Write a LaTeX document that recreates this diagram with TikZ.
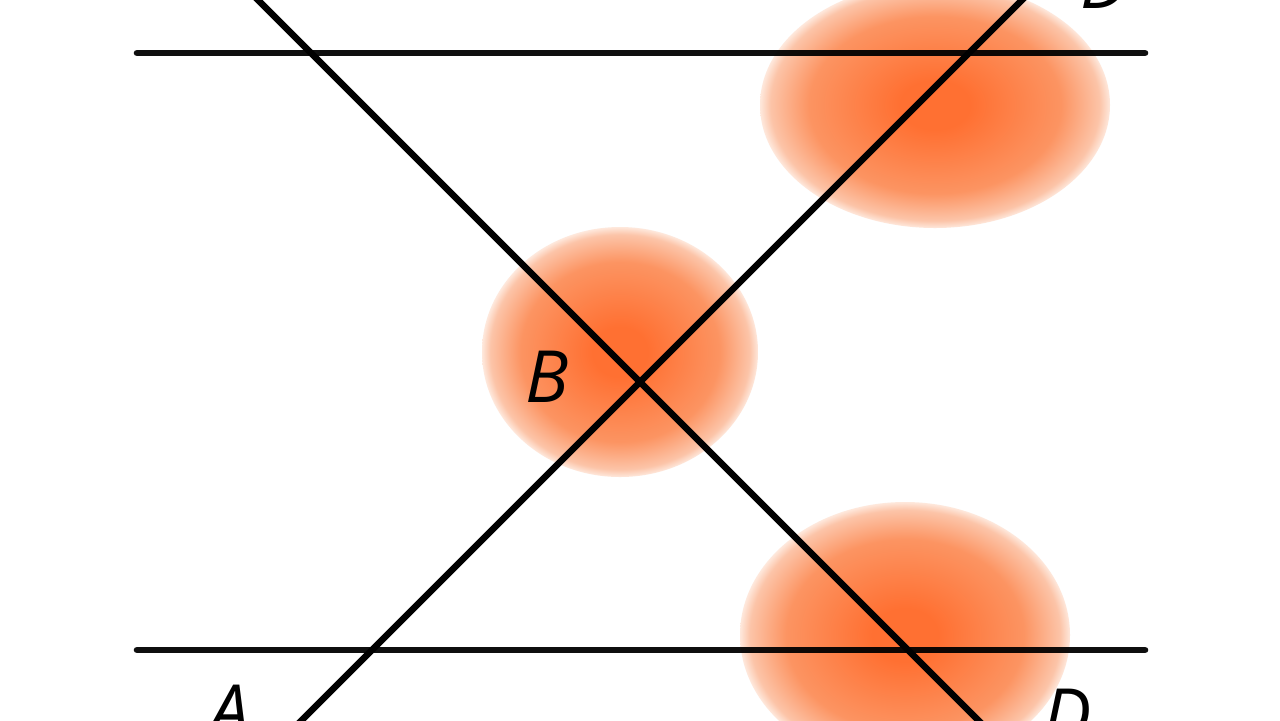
\documentclass[tikz,border=0pt]{standalone}
\usepackage{fontspec}
\setmainfont{Open Sans}
\definecolor{blobA}{RGB}{255,112,50}
\definecolor{blobB}{RGB}{252,148,98}
\definecolor{blobC}{RGB}{252,196,168}
\definecolor{blobD}{RGB}{254,232,220}
\pgfdeclareradialshading{blobshade}{\pgfpoint{0bp}{0bp}}{color(0bp)=(blobA); color(5bp)=(blobA); color(18bp)=(blobB); color(23.5bp)=(blobC); color(25bp)=(blobD); color(50bp)=(white)}
\tikzset{
  blob/.style={shading=blobshade},
  hline/.style={line width=3.3pt, line cap=round, draw=black, draw opacity=0.94},
  dline/.style={line width=3.3pt, line cap=round, draw=black},
  lab/.style={font=\fontsize{36}{40}\selectfont\itshape, anchor=base, inner sep=0pt}
}
\begin{document}
\begin{tikzpicture}[x=0.5pt,y=-0.5pt]
\useasboundingbox (0,0) rectangle (1280,720);
\clip (0,0) rectangle (1280,720);
\fill[white] (0,0) rectangle (1280,720);
% blobs
\shade[blob] (935,105) ellipse [x radius=87.5pt, y radius=61.5pt];
\shade[blob] (620,352) ellipse [x radius=69pt, y radius=62.5pt];
\shade[blob] (905,635) ellipse [x radius=82.5pt, y radius=66.5pt];
% coordinates
\coordinate (t1) at (137,53);
\coordinate (t2) at (1145,53);
\coordinate (b1) at (137,650);
\coordinate (b2) at (1145,650);
\coordinate (p1) at (240,-18);
\coordinate (p2) at (1000,742);
\coordinate (q1) at (280,742);
\coordinate (q2) at (1040,-18);
% lines
\draw[hline] (t1) -- (t2);
\draw[hline] (b1) -- (b2);
\draw[dline] (p1) -- (p2);
\draw[dline] (q1) -- (q2);
% labels
\node[lab] (B) at (547,402) {B};
\node[lab] (Dt) at (1105,8) {D};
\node[lab] (A) at (230,736) {A};
\node[lab] (Db) at (1068,740) {D};
\end{tikzpicture}
\end{document}
